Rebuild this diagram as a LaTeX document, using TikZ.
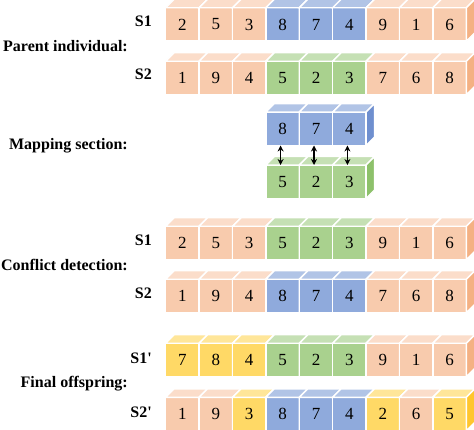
\documentclass[tikz,border=0pt]{standalone}
\usepackage{fontspec}
\setmainfont{Liberation Serif}
\usetikzlibrary{arrows.meta}

\definecolor{ofront}{HTML}{F8CBAD}
\definecolor{otop}{HTML}{FBDDCA}
\definecolor{oside}{HTML}{F4B183}
\definecolor{bfront}{HTML}{8FAADC}
\definecolor{btop}{HTML}{B1C4E6}
\definecolor{bside}{HTML}{6F8FCF}
\definecolor{gfront}{HTML}{A9D18E}
\definecolor{gtop}{HTML}{C5E0B4}
\definecolor{gside}{HTML}{8DC16B}
\definecolor{yfront}{HTML}{FFD966}
\definecolor{ytop}{HTML}{FFE699}
\definecolor{yside}{HTML}{FFC62E}

\tikzset{
  cell/.style={minimum width=33.4pt,minimum height=33.4pt,inner sep=0pt,outer sep=0pt,
    draw=white,line width=1.4pt,font=\fontsize{17}{17}\selectfont},
  lbl/.style={font=\fontsize{16}{16}\selectfont\bfseries,inner sep=0pt}
}

% one gene: #1 position, #2 centre y, #3 colour, #4 digit, #5 name
\newcommand{\gene}[5]{%
  \node[cell,fill=#3front] (#5) at (149+33.4*#1,#2) {#4};
  \filldraw[fill=#3top,draw=white,line width=1.4pt]
    (#5.north west) -- ++(8.5,8.5) -- ++(33.4,0) -- (#5.north east) -- cycle;
  \filldraw[fill=#3side,draw=white,line width=1.4pt]
    (#5.north east) -- ++(8.5,8.5) -- ++(0,-33.4) -- (#5.south east) -- cycle;
}

\begin{document}
\begin{tikzpicture}[x=1pt,y=1pt]
\useasboundingbox (0,0) rectangle (474,-430);

% parent individual
\foreach \n/\c [count=\i] in {2/o,5/o,3/o,8/b,7/b,4/b,9/o,1/o,6/o} {\gene{\i}{-24.5}{\c}{\n}{pa\i}}
\foreach \n/\c [count=\i] in {1/o,9/o,4/o,5/g,2/g,3/g,7/o,6/o,8/o} {\gene{\i}{-78}{\c}{\n}{pb\i}}
\node[lbl,anchor=base east] (parent) at (128,-52) {Parent individual:};
\node[lbl,anchor=base east] (pas) at (152,-27) {S1};
\node[lbl,anchor=base east] (pbs) at (152,-80) {S2};

% mapping section
\foreach \n/\i in {8/4,7/5,4/6} {\gene{\i}{-128.8}{b}{\n}{ma\i}}
\foreach \n/\i in {5/4,2/5,3/6} {\gene{\i}{-181.7}{g}{\n}{mb\i}}
\node[lbl,anchor=base east] (mapping) at (128,-150) {Mapping section:};
\foreach \i in {4,5,6}
  \draw[{Stealth[length=6pt,width=6pt]}-{Stealth[length=6pt,width=6pt]},line width=1.3pt]
    ([xshift=-2pt]ma\i.south) -- ([xshift=-2pt]mb\i.north);

% conflict detection
\foreach \n/\c [count=\i] in {2/o,5/o,3/o,5/g,2/g,3/g,9/o,1/o,6/o} {\gene{\i}{-243}{\c}{\n}{ca\i}}
\foreach \n/\c [count=\i] in {1/o,9/o,4/o,8/b,7/b,4/b,7/o,6/o,8/o} {\gene{\i}{-296}{\c}{\n}{cb\i}}
\node[lbl,anchor=base east] (conflict) at (128,-271) {Conflict detection:};
\node[lbl,anchor=base east] (cas) at (152,-246) {S1};
\node[lbl,anchor=base east] (cbs) at (152,-299) {S2};

% final offspring
\foreach \n/\c [count=\i] in {7/y,8/y,4/y,5/g,2/g,3/g,9/o,1/o,6/o} {\gene{\i}{-360}{\c}{\n}{fa\i}}
\foreach \n/\c [count=\i] in {1/o,9/o,3/y,8/b,7/b,4/b,2/y,6/o,5/y} {\gene{\i}{-414}{\c}{\n}{fb\i}}
\node[lbl,anchor=base east] (final) at (128,-388) {Final offspring:};
\node[lbl,anchor=base east] (fas) at (152,-363) {S1\textquotesingle};
\node[lbl,anchor=base east] (fbs) at (152,-417) {S2\textquotesingle};
\end{tikzpicture}
\end{document}
